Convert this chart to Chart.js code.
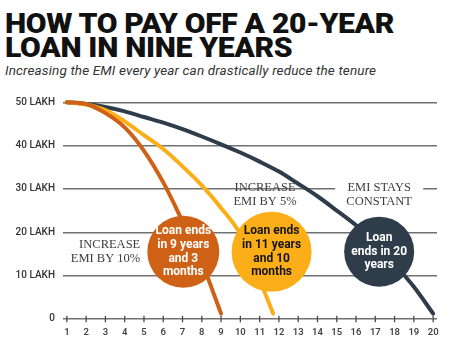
<!DOCTYPE html>
<html>
<head>
<meta charset="utf-8">
<script src="https://cdn.jsdelivr.net/npm/chart.js@4/dist/chart.umd.min.js"></script>
<style>
  body { margin: 0; width: 450px; height: 352px; background: #fff; position: relative; overflow: hidden; }
  #title { position: absolute; left: 5px; top: 11.7px; font-family: Roboto, sans-serif; font-weight: 900;
           font-size: 28px; line-height: 24px; color: #111; letter-spacing: -0.3px; white-space: nowrap;
           transform: scaleX(1.075); transform-origin: 0 0; }
  #sub { position: absolute; left: 5px; top: 62.4px; font-family: Roboto, sans-serif; font-style: italic;
         font-size: 13.5px; line-height: 16px; color: #333; white-space: nowrap; letter-spacing: 0.14px; }
  #wrap { position: absolute; left: 0; top: 88px; width: 450px; height: 264px; }
</style>
</head>
<body>
<div id="title">HOW TO PAY OFF A 20-YEAR<br>LOAN IN NINE YEARS</div>
<div id="sub">Increasing the EMI every year can drastically reduce the tenure</div>
<div id="wrap"><canvas id="Line"></canvas></div>
<script>
// years on the x axis
var years = [1, 2, 3, 4, 5, 6, 7, 8, 9, 10, 11, 12, 13, 14, 15, 16, 17, 18, 19, 20];
var yTicks = [0, 10, 20, 30, 40, 50];
var yTickLabels = ["0", "10 LAKH", "20 LAKH", "30 LAKH", "40 LAKH", "50 LAKH"];

// outstanding loan (lakh) by year
var tenPctX = [1, 2, 3, 4, 5, 6, 7, 8, 9];
var tenPctY = [50, 49.6, 47.5, 44.2, 38.8, 31.5, 22.5, 13, 1.2];
var fivePctX = [1, 2, 3, 4, 5, 6, 7, 8, 9, 10, 11, 11.7];
var fivePctY = [50, 49.5, 48.2, 45.6, 42.4, 39.2, 35.2, 30.8, 25.6, 19.5, 9, 1.2];
var constX = years;
var constY = [50, 49.6, 48.9, 47.9, 46.6, 45.3, 43.8, 42.1, 40.3, 38.4, 36.3, 34, 31.2, 28.3, 25, 21.6, 17.6, 12.6, 7.4, 1.2];

// callout bubbles
var bubbleX = [7.04, 11.62, 17.2];
var bubbleY = [15.5, 15.5, 15.5];
var bubbleText = [
  ["Loan ends", "in 9 years", "and 3", "months"],
  ["Loan ends", "in 11 years", "and 10", "months"],
  ["Loan", "ends in 20", "years"]
];
// series labels
var noteX = [3.25, 11.28, 17.2];
var noteY = [15.5, 28.7, 28.7];
var noteText = [["INCREASE", "EMI BY 10%"], ["INCREASE", "EMI BY 5%"], ["EMI STAYS", "CONSTANT"]];

var orange = "#cf6117", yellow = "#fbae17", navy = "#2f3d4b";

function pts(xs, ys) {
  return xs.map(function (x, i) { return { x: x, y: ys[i] }; });
}

function lineSet(label, xs, ys, color) {
  return {
    label: label,
    data: pts(xs, ys),
    borderColor: color,
    backgroundColor: color,
    borderWidth: 4,
    borderCapStyle: "round",
    borderJoinStyle: "round",
    pointRadius: 0,
    fill: false,
    tension: 0.4,
    cubicInterpolationMode: "monotone",
    clip: false
  };
}

var data = {
  datasets: [
    lineSet("Increase EMI by 10%", tenPctX, tenPctY, orange),
    lineSet("Increase EMI by 5%", fivePctX, fivePctY, yellow),
    lineSet("EMI stays constant", constX, constY, navy)
  ]
};

var extras = {
  id: "extras",
  beforeDatasetsDraw: function (chart) {
    var c = chart.ctx, xs = chart.scales.x, ys = chart.scales.y, a = chart.chartArea;
    c.save();
    // tick marks across the axis
    c.strokeStyle = "#4a4a4a";
    c.lineWidth = 1.3;
    years.forEach(function (v) {
      var px = xs.getPixelForValue(v);
      c.beginPath();
      c.moveTo(px, a.bottom - 3);
      c.lineTo(px, a.bottom + 3.5);
      c.stroke();
    });
    // series notes
    c.font = "12.5px 'Liberation Serif', serif";
    c.fillStyle = "#3d3d3d";
    c.textBaseline = "middle";
    noteText.forEach(function (lines, i) {
      var px = xs.getPixelForValue(noteX[i]), py = ys.getPixelForValue(noteY[i]);
      c.textAlign = i === 0 ? "right" : "center";
      var ax = i === 0 ? px + 30 : px;
      if (i === 2) {
        c.fillStyle = "#fff";
        c.fillRect(px - 44, py - 14, 88, 28);
        c.fillStyle = "#3d3d3d";
      }
      c.fillText(lines[0], ax, py - 7);
      c.fillText(lines[1], ax, py + 7);
    });
    c.restore();
  },
  afterDatasetsDraw: function (chart) {
    var c = chart.ctx, xs = chart.scales.x, ys = chart.scales.y;
    var fills = [orange, yellow, navy], inks = ["#fff", "#151515", "#fff"], radius = [36, 40, 35];
    c.save();
    bubbleText.forEach(function (lines, i) {
      var px = xs.getPixelForValue(bubbleX[i]), py = ys.getPixelForValue(bubbleY[i]);
      c.fillStyle = fills[i];
      c.beginPath();
      c.arc(px, py, radius[i], 0, Math.PI * 2);
      c.fill();
      c.fillStyle = inks[i];
      c.font = "bold 12px Roboto, sans-serif";
      c.textAlign = "center";
      c.textBaseline = "middle";
      var start = py - (lines.length - 1) * 13.7 / 2;
      lines.forEach(function (t, k) { c.fillText(t, px, start + k * 13.7); });
    });
    c.restore();
  }
};

var ctx = document.getElementById("Line").getContext("2d");

var myLineChart = new Chart(ctx, {
  type: "line",
  data: data,
  plugins: [extras],
  options: {
    responsive: true,
    maintainAspectRatio: false,
    animation: false,
    layout: { padding: { top: 14.3, right: 13, left: 0, bottom: 0 } },
    plugins: { legend: { display: false }, tooltip: { enabled: false } },
    scales: {
      x: {
        type: "linear",
        min: 0.8,
        max: 20.2,
        afterBuildTicks: function (s) { s.ticks = years.map(function (v) { return { value: v }; }); },
        afterFit: function (s) { s.height = 33.2; },
        grid: { display: false, drawTicks: false },
        border: { display: false },
        ticks: {
          padding: 8,
          color: "#454545",
          font: { family: "Roboto", size: 9.5, weight: "600" },
          maxRotation: 0,
          autoSkip: false,
          callback: function (v) { return String(v); }
        }
      },
      y: {
        min: 0,
        max: 50,
        afterBuildTicks: function (s) { s.ticks = yTicks.map(function (v) { return { value: v }; }); },
        afterFit: function (s) { s.width = 63; },
        grid: { color: "#707070", lineWidth: 1.4, drawTicks: false },
        border: { display: false },
        ticks: {
          padding: 8,
          color: "#333",
          font: { family: "Roboto", size: 10, weight: "500" },
          callback: function (v, i) { return yTickLabels[i]; }
        }
      }
    }
  }
});
</script>
</body>
</html>
